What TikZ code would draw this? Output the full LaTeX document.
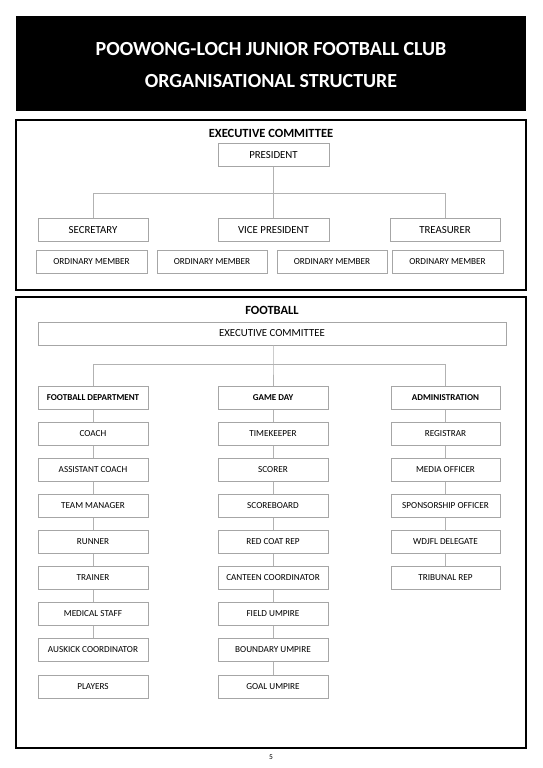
\documentclass[tikz,border=0pt]{standalone}
\usepackage{fontspec}
\setmainfont{Carlito}
\begin{document}
\begin{tikzpicture}[x=1pt,y=-1pt,
  box/.style={draw=gray!70,line width=0.6pt,minimum width=110pt,minimum height=23pt,inner sep=0pt,font=\fontsize{9.2}{10}\selectfont},
  bigbox/.style={box,font=\fontsize{10.8}{12}\selectfont},
  headbox/.style={box,font=\bfseries\fontsize{9}{10}\selectfont},
  frame/.style={draw=black,line width=1.6pt},
  conn/.style={draw=gray!60,line width=0.6pt},
  sectitle/.style={font=\bfseries\fontsize{12.5}{14}\selectfont,inner sep=0pt}]
\useasboundingbox (0,0) rectangle (543,768);
\fill[white] (0,0) rectangle (543,768);
% header
\fill[black] (16,16) rectangle (526,111);
\node[text=white,font=\bfseries\fontsize{20}{22}\selectfont,inner sep=0pt] (t1) at (271,49) {POOWONG-LOCH JUNIOR FOOTBALL CLUB};
\node[text=white,font=\bfseries\fontsize{20}{22}\selectfont,inner sep=0pt] (t2) at (271,81) {ORGANISATIONAL STRUCTURE};
% executive committee frame
\draw[frame] (16,120) rectangle (526,290);
\node[sectitle] (ectitle) at (271,133) {EXECUTIVE COMMITTEE};
\node[bigbox,minimum width=111pt] (pres) at (273.5,155) {PRESIDENT};
\node[bigbox] (sec) at (93,230) {SECRETARY};
\node[bigbox,minimum width=111pt] (vp) at (273.5,230) {VICE PRESIDENT};
\node[bigbox] (treas) at (445,230) {TREASURER};
\node[box,minimum width=111pt] (om1) at (91.5,261.5) {ORDINARY MEMBER};
\node[box] (om2) at (212,261.5) {ORDINARY MEMBER};
\node[box] (om3) at (332,261.5) {ORDINARY MEMBER};
\node[box,minimum width=111pt] (om4) at (447.5,261.5) {ORDINARY MEMBER};
\coordinate (ej) at (273.5,193);
\coordinate (ejl) at (93,193);
\coordinate (ejr) at (445,193);
\draw[conn] (pres.south) -- (ej) -- (vp.north);
\draw[conn] (ejl) -- (ejr);
\draw[conn] (ejl) -- (sec.north);
\draw[conn] (ejr) -- (treas.north);
% football frame
\draw[frame] (16,297) rectangle (526,748);
\node[sectitle] (fbtitle) at (272,310) {FOOTBALL};
\node[bigbox,minimum width=468pt] (fexec) at (272,333.5) {EXECUTIVE COMMITTEE};
\coordinate (fj) at (273,364);
\coordinate (fjl) at (93,364);
\coordinate (fjr) at (445.5,364);
% left column
\node[headbox] (fd) at (93,398) {FOOTBALL DEPARTMENT};
\node[box] (coach) at (93,434) {COACH};
\node[box] (asst) at (93,470) {ASSISTANT COACH};
\node[box] (tm) at (93,506) {TEAM MANAGER};
\node[box] (run) at (93,542) {RUNNER};
\node[box] (trn) at (93,578) {TRAINER};
\node[box] (med) at (93,614) {MEDICAL STAFF};
\node[box] (ausk) at (93,650) {AUSKICK COORDINATOR};
\node[box] (ply) at (93,686.5) {PLAYERS};
% middle column
\node[headbox] (gd) at (273,398) {GAME DAY};
\node[box] (tk) at (273,434) {TIMEKEEPER};
\node[box] (scr) at (273,470) {SCORER};
\node[box] (sb) at (273,506) {SCOREBOARD};
\node[box] (rc) at (273,542) {RED COAT REP};
\node[box] (cc) at (273,578) {CANTEEN COORDINATOR};
\node[box] (fu) at (273,614) {FIELD UMPIRE};
\node[box] (bu) at (273,650) {BOUNDARY UMPIRE};
\node[box] (gu) at (273,686.5) {GOAL UMPIRE};
% right column
\node[headbox,minimum width=109pt] (adm) at (445.5,398) {ADMINISTRATION};
\node[box,minimum width=109pt] (reg) at (445.5,434) {REGISTRAR};
\node[box,minimum width=109pt] (mo) at (445.5,470) {MEDIA OFFICER};
\node[box,minimum width=109pt] (so) at (445.5,506) {SPONSORSHIP OFFICER};
\node[box,minimum width=109pt] (wd) at (445.5,542) {WDJFL DELEGATE};
\node[box,minimum width=109pt] (tr) at (445.5,578) {TRIBUNAL REP};
% connectors
\draw[conn] (fexec.south -| fj) -- (fj) -- (gd.north);
\draw[conn] (fjl) -- (fjr);
\draw[conn] (fjl) -- (fd.north);
\draw[conn] (fjr) -- (adm.north);
\draw[conn] (fd) -- (coach) (coach) -- (asst) (asst) -- (tm) (tm) -- (run) (run) -- (trn) (trn) -- (med) (med) -- (ausk);
\draw[conn] (gd) -- (tk) (tk) -- (scr) (scr) -- (sb) (sb) -- (rc) (rc) -- (cc) (cc) -- (fu) (fu) -- (bu) (bu) -- (gu);
\draw[conn] (adm) -- (reg) (reg) -- (mo) (mo) -- (so) (so) -- (wd) (wd) -- (tr);
% page number
\node[font=\fontsize{7.5}{8}\selectfont,inner sep=0pt] (pg) at (271,757) {5};
\end{tikzpicture}
\end{document}
